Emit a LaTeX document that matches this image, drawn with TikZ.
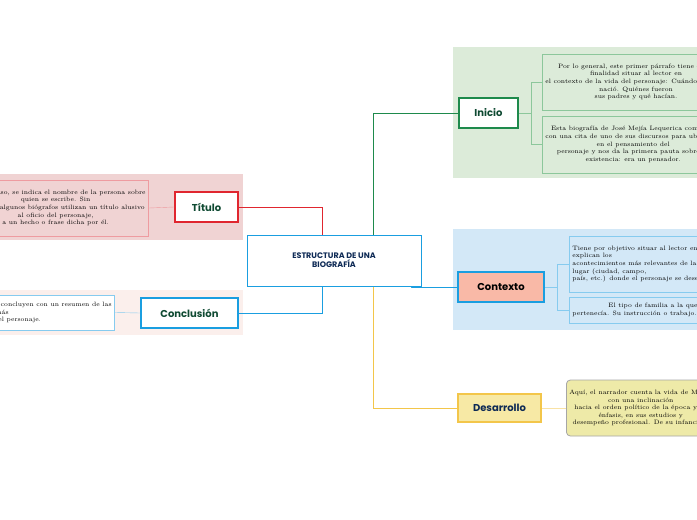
\documentclass[tikz,border=0pt]{standalone}
\usepackage{fontspec}
\newfontfamily\headfont{Poppins}
\begin{document}
\begin{tikzpicture}[x=1pt,y=-1pt,
 sub/.style={draw,line width=0.8pt,align=center,font=\fontsize{6.3}{7.6}\selectfont,inner sep=3pt},
 head/.style={draw,line width=1.5pt,font=\headfont\bfseries\fontsize{10}{11}\selectfont,inner sep=0pt},
 conn/.style={line width=0.9pt}]
\useasboundingbox (0,0) rectangle (697,520);
\clip (0,0) rectangle (697,520);
\definecolor{gbg}{HTML}{DCEBD9}\definecolor{gdk}{HTML}{1E8A4C}\definecolor{glt}{HTML}{8CC79B}
\definecolor{pbg}{HTML}{F0D3D3}\definecolor{rd}{HTML}{E0262F}\definecolor{plt}{HTML}{EE9BA0}
\definecolor{cbg}{HTML}{FBEFEC}\definecolor{bl}{HTML}{1A9EE0}\definecolor{blt}{HTML}{86CBEF}
\definecolor{bbg}{HTML}{D3E8F7}\definecolor{sal}{HTML}{F9B9A7}
\definecolor{yfl}{HTML}{F7E9A5}\definecolor{yb}{HTML}{F3C64A}\definecolor{ysub}{HTML}{EEEAA8}
\definecolor{navy}{HTML}{0E2A55}\definecolor{dgreen}{HTML}{0F4A32}
\fill[gbg] (453,47) rectangle (697,178);
\fill[pbg] (0,174) rectangle (243,240);
\fill[cbg] (0,290) rectangle (243,335);
\fill[bbg] (453,229) rectangle (697,330);
\node[draw=bl,line width=1pt,fill=white,minimum width=174,minimum height=51,align=center,text=navy,font=\headfont\bfseries\fontsize{8}{9}\selectfont] (c) at (334,260.5) {ESTRUCTURA DE UNA\\BIOGRAFÍA};
\node[head,draw=gdk,fill=white,text=dgreen,minimum width=59,minimum height=30] (ini) at (488.5,113) {Inicio};
\node[head,draw=rd,fill=white,text=dgreen,minimum width=63,minimum height=30] (tit) at (206.5,207) {Título};
\node[head,draw=bl,fill=white,text=dgreen,minimum width=97,minimum height=30] (con) at (189.5,313) {Conclusión};
\node[head,draw=bl,fill=sal,text=black,minimum width=86,minimum height=30] (ctx) at (501,287) {Contexto};
\node[head,draw=yb,fill=yfl,text=navy,minimum width=83,minimum height=28] (des) at (499.5,408) {Desarrollo};
\node[sub,draw=glt,fill=gbg,minimum height=56,anchor=west] (i1) at (542,82) {Por lo general, este primer párrafo tiene como\\ finalidad situar al lector en\\el contexto de la vida del personaje: Cuándo y dónde\\ nació. Quiénes fueron\\ sus padres y qué hacían.};
\node[sub,draw=glt,fill=gbg,minimum height=57,anchor=west] (i2) at (542,144.5) {Esta biografía de José Mejía Lequerica comienza\\con una cita de uno de sus discursos para ubicarnos\\ en el pensamiento del\\personaje y nos da la primera pauta sobre su\\ existencia: era un pensador.};
\node[sub,draw=plt,fill=pbg,minimum height=56,anchor=east] (t1) at (149,208) {En este caso, se indica el nombre de la persona sobre\\ quien se escribe. Sin\\embargo, algunos biógrafos utilizan un título alusivo\\ al oficio del personaje,\\ a un hecho o frase dicha por él.};
\node[sub,draw=blt,fill=white,minimum height=35,align=left,anchor=east] (c1) at (115,312.5) {Las biografías concluyen con un resumen de las\\ \hspace{14pt}acciones más\\importantes del personaje.};
\node[sub,draw=blt,fill=bbg,minimum height=56,align=left,anchor=west] (x1) at (569,264) {Tiene por objetivo situar al lector en el contexto:\\explican los\\acontecimientos más relevantes de la época y el\\lugar (ciudad, campo,\\país, etc.) donde el personaje se desenvolvió.};
\node[sub,draw=blt,fill=bbg,minimum height=26,align=left,anchor=west] (x2) at (569,310) {\hspace{36pt}El tipo de familia a la que\\pertenecía. Su instrucción o trabajo.};
\node[sub,draw=gray!70,fill=ysub,rounded corners=4pt,minimum height=56,anchor=west] (d1) at (566,408) {Aquí, el narrador cuenta la vida de Mejía,\\ con una inclinación\\hacia el orden político de la época y su\\ énfasis, en sus estudios y\\desempeño profesional. De su infancia...};
\draw[conn,gdk] (c.north) ++(39,0) |- (ini.west);
\draw[conn,rd] (c.north) ++(-12,0) |- (tit.east);
\draw[conn,bl] (c.south) ++(-12,0) |- (con.east);
\draw[conn,bl] (c.south) ++(77,0) |- (ctx.west);
\draw[conn,yb] (c.south) ++(39,0) |- (des.west);
\draw[glt] (ini.east) -- ++(12,0) coordinate (ib);
\draw[glt] (ib) |- (i1.west); \draw[glt] (ib) |- (i2.west);
\draw[plt] (tit.west) -- (t1.east);
\draw[blt] (con.west) -- (c1.east);
\draw[blt] (ctx.east) -- ++(12,0) coordinate (xb);
\draw[blt] (xb) |- (x1.west); \draw[blt] (xb) |- (x2.west);
\draw[yb!50,line width=0.9pt] (des.east) -- (d1.west);
\end{tikzpicture}
\end{document}
